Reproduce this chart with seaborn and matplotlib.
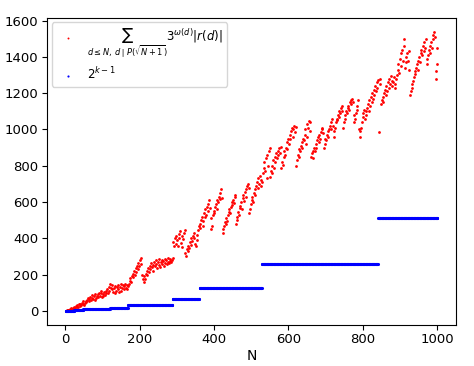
import numpy as np
import pandas as pd
import seaborn as sns
import matplotlib.pyplot as plt

# red series: values at N = 1, 3, 5, ..., 999 and 1000
red_vals = [
    1, 2, 3, 5, 4,  6, 10, 8, 14, 12,  18, 12, 22, 16, 26,  20, 30, 24, 36, 28,
    40, 32, 46, 38, 52,  30, 44, 56, 48, 62,  70, 52, 64, 78, 60,  72, 86, 66, 80, 94,
    58, 70, 84, 76, 92,  100, 82, 96, 110, 74,  80, 92, 104, 88, 100,  108, 120, 98, 130, 112,
    150, 128, 118, 140, 106,  124, 98, 136, 112, 130,  118, 140, 104, 132, 146,  110, 126, 142, 120, 136,
    150, 128, 145, 118, 135,  150, 165, 180, 160, 190,  205, 185, 220, 200, 235,  215, 250, 230, 265, 245,
    280, 260, 290, 200, 175,  160, 190, 175, 205, 220,  195, 235, 215, 250, 230,  265, 240, 220, 255, 270,
    245, 280, 260, 235, 270,  285, 255, 240, 270, 280,  260, 275, 250, 285, 265,  280, 258, 272, 290, 262,
    275, 285, 268, 280, 290,  380, 355, 400, 370, 415,  390, 360, 425, 400, 440,  375, 410, 350, 395, 430,
    445, 320, 305, 340, 330,  360, 345, 380, 365, 400,  385, 415, 400, 430, 370,  360, 390, 420, 445, 470,
    480, 455, 500, 520, 470,  495, 540, 515, 560, 530,  575, 550, 590, 610, 565,  450, 510, 470, 530, 550,
    540, 570, 590, 560, 610,  600, 630, 615, 650, 670,  620, 450, 430, 470, 490,  480, 510, 495, 530, 545,
    560, 540, 575, 600, 585,  610, 595, 625, 640, 480,  500, 520, 545, 530, 565,  580, 600, 560, 620, 640,
    605, 655, 630, 670, 690,  700, 680, 540, 560, 590,  610, 630, 600, 650, 670,  640, 690, 710, 680, 730,
    700, 745, 720, 690, 710,  760, 790, 820, 770, 840,  730, 860, 800, 880, 900,  740, 770, 760, 800, 830,
    790, 850, 820, 870, 840,  880, 860, 900, 870, 905,  790, 820, 805, 850, 880,  860, 900, 930, 890, 950,
    920, 970, 945, 990, 1010,  960, 1000, 1020, 985, 1015,  800, 830, 860, 850, 890,  880, 910, 930, 900, 950,
    940, 970, 1000, 920, 1030,  960, 1010, 1045, 990, 1040,  850, 870, 840, 880, 900,  880, 920, 900, 940, 960,
    930, 970, 950, 985, 1000,  1010, 980, 900, 920, 950,  940, 970, 990, 960, 1000,  1020, 1000, 1040, 1055, 1020,
    960, 990, 1010, 1040, 1060,  1050, 1080, 1070, 1100, 1090,  1120, 1100, 1130, 1010, 1040,  1060, 1080, 1100, 1090, 1120,
    1130, 1110, 1150, 1140, 1160,  1170, 1150, 1080, 1040, 1060,  1090, 1110, 1130, 1165, 1000,  960, 990, 1010, 1040, 1070,
    1090, 1110, 1060, 1080, 1100,  1120, 1140, 1100, 1160, 1130,  1180, 1150, 1200, 1170, 1220,  1190, 1240, 1210, 1260, 1230,
    1275, 985, 1250, 1280, 1140,  1160, 1180, 1150, 1200, 1220,  1190, 1240, 1210, 1260, 1230,  1280, 1250, 1295, 1270, 1240,
    1260, 1290, 1230, 1250, 1280,  1300, 1330, 1360, 1310, 1390,  1420, 1350, 1440, 1380, 1460,  1500, 1340, 1400, 1370, 1420,
    1380, 1430, 1330, 1190, 1210,  1230, 1250, 1270, 1290, 1305,  1320, 1340, 1360, 1330, 1380,  1400, 1370, 1420, 1440, 1410,
    1460, 1430, 1480, 1450, 1500,  1360, 1390, 1410, 1440, 1420,  1460, 1480, 1450, 1500, 1520,  1540, 1510, 1280, 1320, 1360,
    1450,
]
red_n = list(range(1, 1000, 2)) + [1000]

# blue series: 2^(k-1), constant between these N breakpoints
blue_starts = [1, 9, 25, 49, 121, 169, 289, 361, 529, 841, 1001]
blue_levels = [1, 2, 4, 8, 16, 32, 64, 128, 256, 512]

label_red = r'$\sum_{d\leq N,\,d\mid P(\sqrt{N+1})} 3^{\omega(d)}|r(d)|$'
label_blue = r'$2^{k-1}$'

red_df = pd.DataFrame({'N': red_n, 'value': red_vals})
counts = np.diff(blue_starts)
blue_df = pd.DataFrame({'N': np.arange(blue_starts[0], blue_starts[-1]),
                        'value': np.repeat(blue_levels, counts)})

fig, ax = plt.subplots(figsize=(4.74, 3.66), dpi=100)
fig.subplots_adjust(left=0.099, right=0.962, top=0.952, bottom=0.113)

sns.scatterplot(data=red_df, x='N', y='value', color='red', s=4,
                linewidth=0, ax=ax, label=label_red)
sns.scatterplot(data=blue_df, x='N', y='value', color='blue', s=5,
                linewidth=0, ax=ax, label=label_blue)

ax.set_xlabel('N', labelpad=2)
ax.set_ylabel('')
ax.set_xticks([0, 200, 400, 600, 800, 1000])
ax.set_yticks([0, 200, 400, 600, 800, 1000, 1200, 1400, 1600])
ax.tick_params(labelsize=9.5, pad=2.5)
ax.legend(loc='upper left', fontsize=8.5, markerscale=0.7,
          handletextpad=0.6, borderaxespad=0.4)

plt.savefig('out.png', dpi=100)
